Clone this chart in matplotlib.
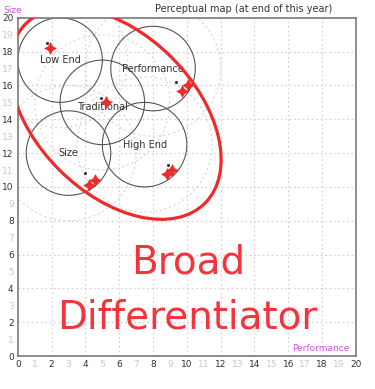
import numpy as np
import matplotlib
matplotlib.use("Agg")
import matplotlib.pyplot as plt
from matplotlib.patches import Circle, Ellipse

# segment centres (performance, size)
segments = ["Low End", "Performance", "Traditional", "Size", "High End"]
seg_perf = [2.5, 8.0, 5.0, 3.0, 7.5]
seg_size = [17.5, 17.0, 15.0, 12.0, 12.5]
label_size = [17.5, 17.0, 14.75, 12.0, 12.5]
fine_radius = 2.5
rough_radius = 4.0

# products on the map
prod_perf = [1.9, 5.2, 9.7, 10.05, 4.2, 4.55, 8.8, 9.1]
prod_size = [18.2, 15.0, 15.7, 16.05, 10.1, 10.4, 10.75, 11.0]

# ideal spots
ideal_perf = [1.7, 4.95, 9.35, 3.95, 8.9]
ideal_size = [18.5, 15.25, 16.2, 10.8, 11.3]

# strategy ellipse
ell_center = (5.77, 14.34)
ell_axes = (7.5, 4.7)
ell_angle = -45

ticks = list(range(0, 21))

fig = plt.figure(figsize=(3.75, 3.89), dpi=100)
ax = fig.add_axes([0.0475, 0.0848, 0.9015, 0.8694])
ax.set_xlim(0, 20)
ax.set_ylim(0, 20)

# grid every 2 units
for v in range(2, 20, 2):
    ax.axvline(v, color="#cfcfcf", lw=0.8, ls=(0, (1.5, 2.5)), zorder=0)
    ax.axhline(v, color="#cfcfcf", lw=0.8, ls=(0, (1.5, 2.5)), zorder=0)

for i in range(len(segments)):
    ax.add_patch(Circle((seg_perf[i], seg_size[i]), rough_radius, fill=False,
                        ec="#d6d6d6", lw=0.8, ls=(0, (2, 2.5)), zorder=1))
for i in range(len(segments)):
    ax.add_patch(Circle((seg_perf[i], seg_size[i]), fine_radius, fill=False,
                        ec="#555555", lw=0.8, zorder=2))
    ax.text(seg_perf[i], label_size[i], segments[i], ha="center", va="center",
            fontsize=7, color="#333333", zorder=3)

ax.scatter(ideal_perf, ideal_size, s=1.5, c="#333333", zorder=3)
ax.scatter(prod_perf, prod_size, marker=(4, 1, 0), s=85, c="#ee2b2b",
           linewidths=0, zorder=4)

ax.add_patch(Ellipse(ell_center, 2 * ell_axes[0], 2 * ell_axes[1], angle=ell_angle,
                     fill=False, ec="#f02a2a", lw=2.3, zorder=5))

ax.text(10.05, 4.89, "Broad", ha="center", va="baseline", fontsize=28,
        color="#f5333a", zorder=6)
ax.text(10.05, 1.65, "Differentiator", ha="center", va="baseline", fontsize=28,
        color="#f5333a", zorder=6)

ax.set_xticks(ticks)
ax.set_yticks(ticks)
ax.set_xticklabels([str(t) for t in ticks], fontsize=6.5)
ax.set_yticklabels([str(t) for t in ticks], fontsize=6.5)
for lab, t in zip(ax.get_xticklabels(), ticks):
    lab.set_color("#333333" if t % 2 == 0 else "#c8c8c8")
for lab, t in zip(ax.get_yticklabels(), ticks):
    lab.set_color("#333333" if t % 2 == 0 else "#c8c8c8")
ax.tick_params(length=0, pad=3)

for sp in ax.spines.values():
    sp.set_color("#7a7a7a")
    sp.set_linewidth(1.2)

ax.text(19.6, 0.45, "Performance", ha="right", va="center", fontsize=6.5, color="#cc55dd")
fig.text(0.01, 0.972, "Size", ha="left", va="center", fontsize=6.5, color="#cc55dd")
fig.text(0.65, 0.978, "Perceptual map (at end of this year)", ha="center", va="center",
         fontsize=7, color="#333333")

fig.savefig("out.png", dpi=100)
